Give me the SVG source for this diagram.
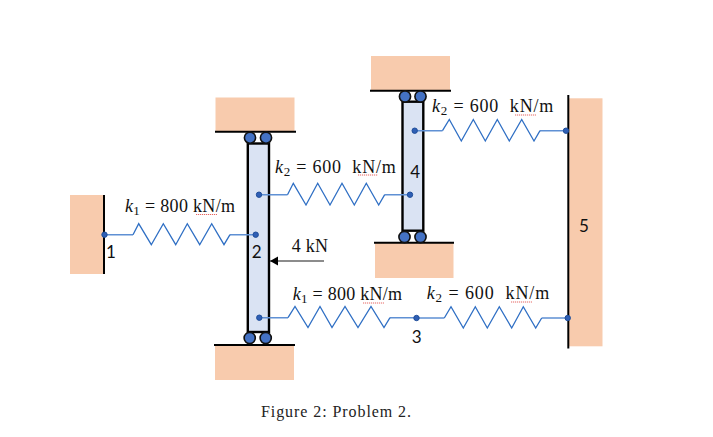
<svg xmlns="http://www.w3.org/2000/svg" width="713" height="437" viewBox="0 0 713 437">
<style>
.block{fill:#f8cbad}
.edge{stroke:#000;stroke-width:2;fill:none}
.bar{fill:#dae3f3;stroke:#000;stroke-width:2.4}
.roller{fill:#4472c4;stroke:#111;stroke-width:1.6}
.pin{fill:#2f5fb5;stroke:#1f4e9a;stroke-width:1}
.spring{fill:none;stroke:#2f6fc4;stroke-width:1.3;stroke-linejoin:miter}
.lead{fill:none;stroke:#5f90d4;stroke-width:1.5}
.math{font-family:"Liberation Serif","Times New Roman",serif;font-size:18px;fill:#111;white-space:pre}
.sub{font-size:13px}
.num{font-family:Lato,"Open Sans",sans-serif;font-size:17px;fill:#111;text-anchor:middle}
.cap{font-family:"Liberation Serif","Times New Roman",serif;font-size:16px;fill:#222}
.squig{fill:none;stroke:#e0403a;stroke-width:.8;stroke-dasharray:1.2 .8}
.force{stroke:#666;stroke-width:1.3;fill:none}
</style>
<defs>
<marker id="head" markerUnits="userSpaceOnUse" markerWidth="9" markerHeight="10" refX="8" refY="5" orient="auto"><path d="M0,0.5 L8,5 L0,9.5 Z" fill="#000"/></marker>
</defs>

<g id="node-1">
<rect class="block" x="70" y="195" width="34" height="79"/>
<line class="edge" x1="104" y1="195" x2="104" y2="274"/>
<text class="num" x="111" y="257.5">1</text>
</g>

<g id="node-2">
<rect class="block" x="215.500" y="97.500" width="79" height="34"/>
<line class="edge" x1="215" y1="131.700" x2="296" y2="131.700"/>
<rect class="block" x="215" y="345" width="79" height="35"/>
<line class="edge" x1="214" y1="345" x2="295" y2="345"/>
<rect class="bar" x="247.800" y="143.500" width="21.200" height="188.500"/>
<circle class="roller" cx="250" cy="137.700" r="5.600"/>
<circle class="roller" cx="266" cy="137.700" r="5.600"/>
<circle class="roller" cx="249.700" cy="338" r="5.600"/>
<circle class="roller" cx="265.700" cy="338" r="5.600"/>
<text class="num" x="256.700" y="257.500">2</text>
</g>

<g id="node-3">
<text class="num" x="416.700" y="342.700">3</text>
</g>

<g id="node-4">
<rect class="block" x="371" y="56" width="79" height="34.500"/>
<line class="edge" x1="370" y1="90.700" x2="451" y2="90.700"/>
<rect class="block" x="375" y="243" width="78.500" height="35"/>
<line class="edge" x1="374" y1="242.700" x2="454" y2="242.700"/>
<rect class="bar" x="402.500" y="101.700" width="20.800" height="129"/>
<circle class="roller" cx="405" cy="96.500" r="5.600"/>
<circle class="roller" cx="420.500" cy="96.500" r="5.600"/>
<circle class="roller" cx="404.500" cy="237" r="5.600"/>
<circle class="roller" cx="420.500" cy="237" r="5.600"/>
<text class="num" x="415.300" y="177.700">4</text>
</g>

<g id="node-5">
<rect class="block" x="569" y="98.300" width="33.500" height="248"/>
<line class="edge" x1="568.300" y1="95" x2="568.300" y2="348.500"/>
<text class="num" x="584" y="231.700">5</text>
</g>

<g id="connectors">
<path class="lead" d="M104.500,234.700 H133 M230,234.700 H255.700"/>
<path class="spring" d="M133,234.700 L138.700,223.700 L151.300,244.700 L163.300,223.700 L175.700,244.700 L187.300,223.700 L199.700,244.700 L211.700,223.700 L224,244.700 L230,234.700"/>
<path class="lead" d="M259,194.700 H287.500 M384.700,194.700 H410"/>
<path class="spring" d="M287.500,194.700 L293.300,183.300 L306,205 L317.700,183.300 L330,205 L342,183.300 L354.300,205 L366.300,183.300 L378.700,205 L384.700,194.700"/>
<path class="lead" d="M259.300,317.700 H288 M390,317.700 H416.500"/>
<path class="spring" d="M288,317.700 L295,306.500 L308,327.500 L320,306.500 L332,327.500 L345,306.500 L358,327.500 L371,306.500 L384,327.500 L390,317.700"/>
<path class="lead" d="M416.500,318 H444.300 M541.700,318 H567.700"/>
<path class="spring" d="M444.300,318 L451,306.700 L463.300,328 L475.300,306.700 L487.300,328 L499.300,306.700 L511.700,328 L523.300,306.700 L535.700,328 L541.700,318"/>
<path class="lead" d="M414.700,130.700 H442.500 M540,130.700 H566"/>
<path class="spring" d="M442.500,130.700 L449.300,119.500 L461.300,141 L473.300,119.500 L485.300,141 L497.300,119.500 L509.300,141 L521.700,119.500 L534,141 L540,130.700"/>
<circle class="pin" cx="104.500" cy="234.700" r="2.700"/>
<circle class="pin" cx="255.700" cy="234.700" r="2.700"/>
<circle class="pin" cx="259" cy="194.700" r="2.700"/>
<circle class="pin" cx="410" cy="194.700" r="2.700"/>
<circle class="pin" cx="259.300" cy="317.700" r="2.700"/>
<circle class="pin" cx="416.500" cy="318" r="2.700"/>
<circle class="pin" cx="567.700" cy="318" r="2.700"/>
<circle class="pin" cx="414.700" cy="130.700" r="2.700"/>
<circle class="pin" cx="566" cy="130.700" r="2.700"/>
<line class="force" x1="324" y1="261" x2="270" y2="261" marker-end="url(#head)"/>
</g>

<g id="labels">
<text class="math" x="125" y="211.700" textLength="110"><tspan font-style="italic">k</tspan><tspan class="sub" dy="3">1</tspan><tspan dy="-3"> = 800 kN/m</tspan></text>
<text class="math" x="275" y="172.700" textLength="120.700"><tspan font-style="italic">k</tspan><tspan class="sub" dy="3">2</tspan><tspan dy="-3"> = 600  kN/m</tspan></text>
<text class="math" x="292.700" y="300" textLength="109.300"><tspan font-style="italic">k</tspan><tspan class="sub" dy="3">1</tspan><tspan dy="-3"> = 800 kN/m</tspan></text>
<text class="math" x="426.700" y="299.300" textLength="122.600"><tspan font-style="italic">k</tspan><tspan class="sub" dy="3">2</tspan><tspan dy="-3"> = 600  kN/m</tspan></text>
<text class="math" x="432" y="111.700" textLength="121.300"><tspan font-style="italic">k</tspan><tspan class="sub" dy="3">2</tspan><tspan dy="-3"> = 600  kN/m</tspan></text>
<text class="math" x="291.700" y="251.700" textLength="36.300">4 kN</text>
<text class="cap" x="261" y="417" textLength="150">Figure 2: Problem 2.</text>
<path class="squig" d="M196,214.500 H217"/>
<path class="squig" d="M358,175 H378"/>
<path class="squig" d="M363,303 H384"/>
<path class="squig" d="M511,302 H532"/>
<path class="squig" d="M515,115 H536"/>
</g>
</svg>
